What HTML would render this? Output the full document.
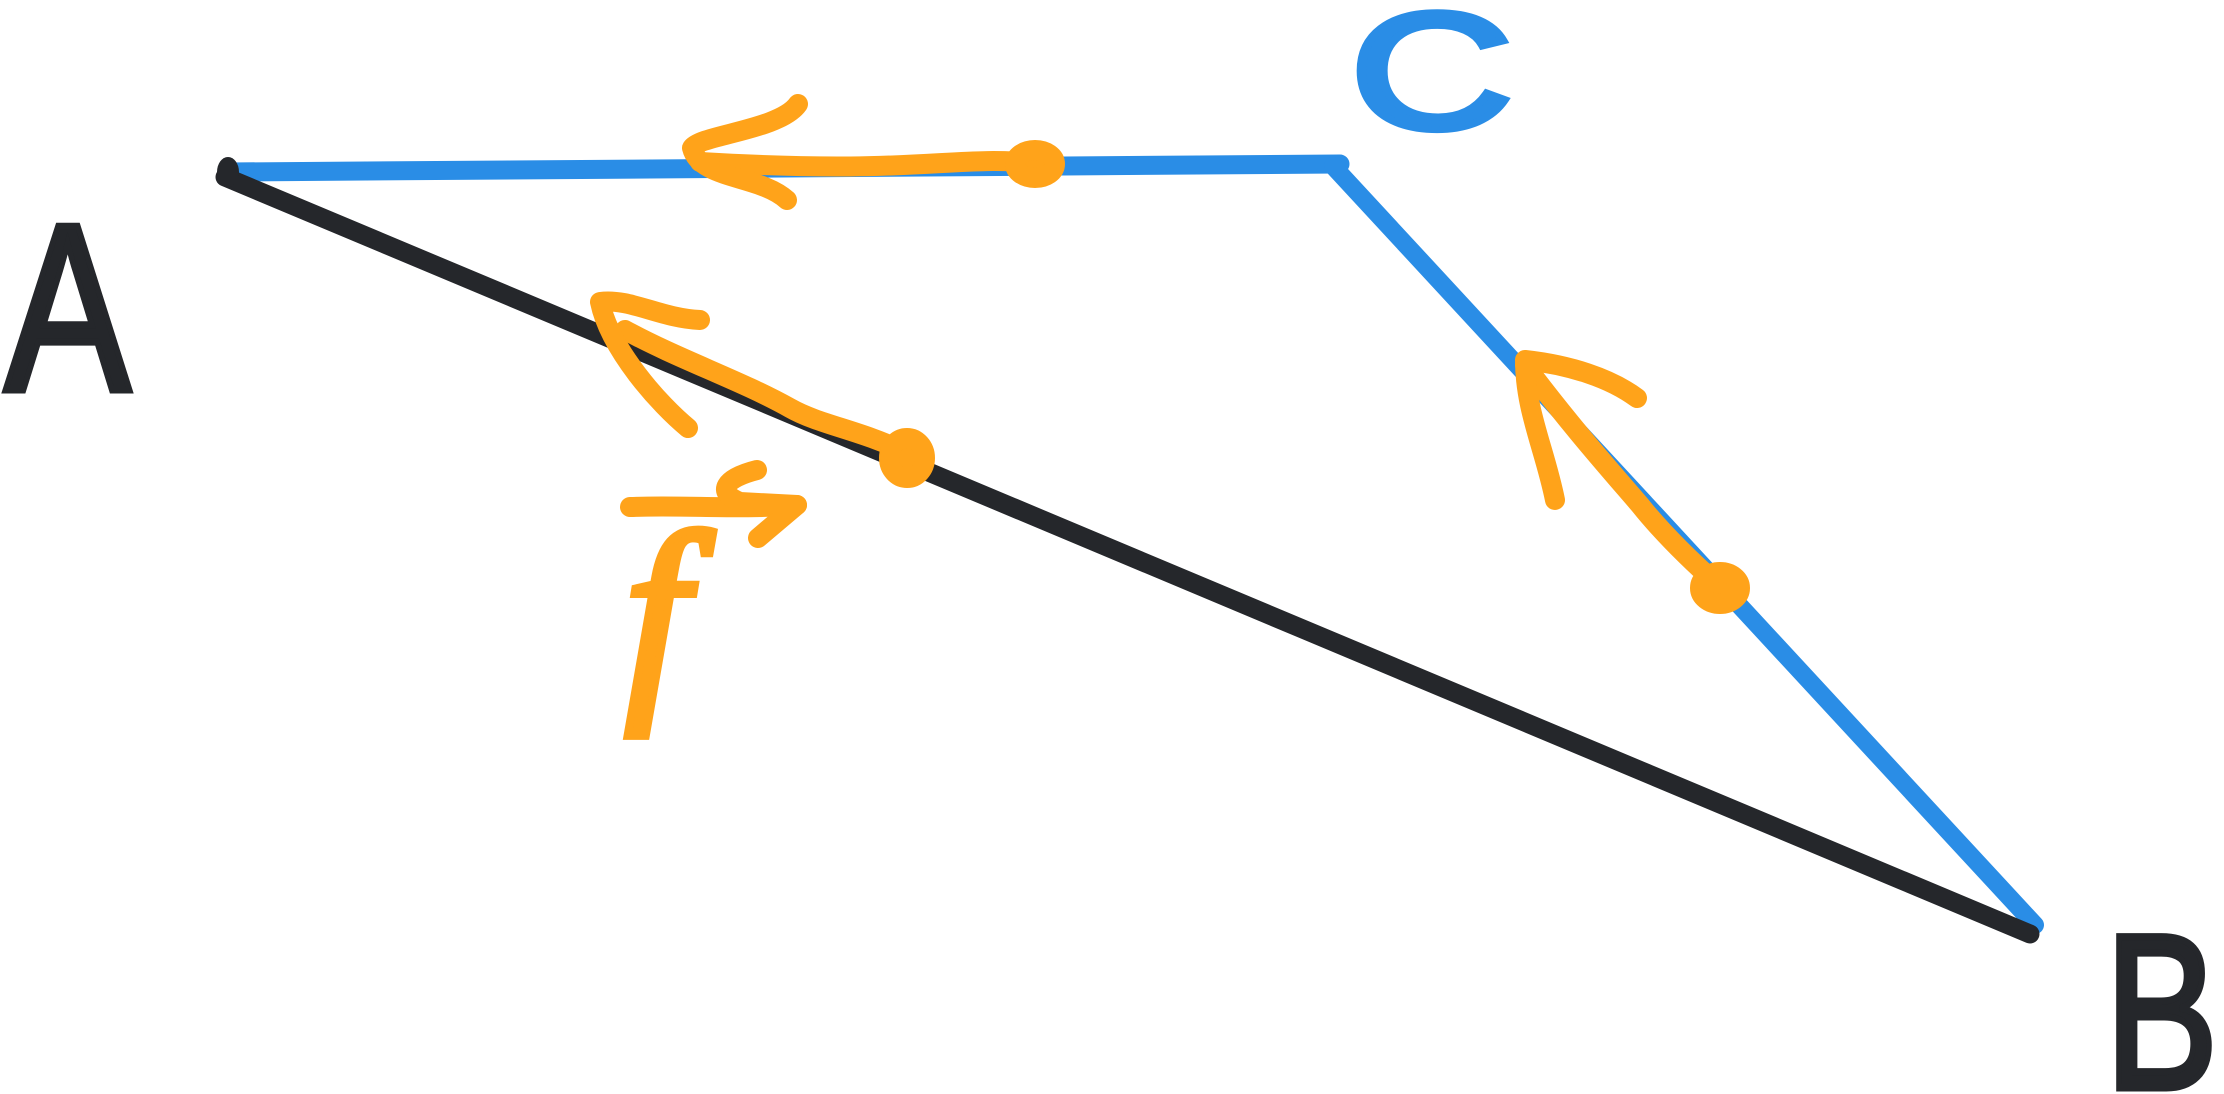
<!DOCTYPE html>
<html><head><style>
html,body{margin:0;padding:0;background:#fff;}
svg{display:block;}
</style></head><body>
<svg width="2224" height="1094" viewBox="0 0 2224 1094" xmlns="http://www.w3.org/2000/svg">
<g fill="none" stroke-linecap="round" stroke-linejoin="round">
<line x1="228" y1="172" x2="1340" y2="164" stroke="#2a8de6" stroke-width="19"/>
<line x1="1333" y1="166" x2="2035" y2="925" stroke="#2a8de6" stroke-width="18"/>
<line x1="225" y1="177" x2="2030" y2="934" stroke="#25272b" stroke-width="19"/>
<ellipse cx="228" cy="172" rx="11" ry="15" fill="#25272b" stroke="none"/>
<g stroke="#ffa31a" stroke-width="20">
<path d="M1035 163 C950 155 920 175 700 162"/>
<path d="M798 104 C780 130 700 135 692 148 C700 180 760 175 787 200"/>
<ellipse cx="1035" cy="164" rx="20" ry="14" fill="#ffa31a"/>
<path d="M905 452 C860 430 820 425 790 408 C740 380 680 360 625 330"/>
<path d="M700 320 C660 318 630 298 600 302 C610 350 660 405 688 428"/>
<ellipse cx="907" cy="458" rx="18" ry="20" fill="#ffa31a"/>
<path d="M1718 585 C1690 560 1660 530 1640 505 C1610 470 1570 425 1525 365"/>
<path d="M1637 398 C1610 378 1570 365 1525 360 C1525 410 1545 450 1555 500"/>
<ellipse cx="1720" cy="588" rx="20" ry="16" fill="#ffa31a"/>
<path d="M630 507 C690 505 740 510 797 505"/>
<path d="M757 470 C725 478 715 492 740 502 L797 505 L758 538"/>
</g>
</g>
<text x="625" y="688" font-family="Liberation Serif, serif" font-style="italic" font-size="225" fill="#ffa31a" stroke="#ffa31a" stroke-width="8">f</text>
<text x="5" y="390" textLength="125" lengthAdjust="spacingAndGlyphs" font-family="Liberation Sans, sans-serif" font-size="238" fill="#25272b" stroke="#25272b" stroke-width="7">A</text>
<text x="2105" y="1088" textLength="113" lengthAdjust="spacingAndGlyphs" font-family="Liberation Sans, sans-serif" font-size="220" fill="#25272b" stroke="#25272b" stroke-width="7">B</text>
<text x="1350" y="128" textLength="163" lengthAdjust="spacingAndGlyphs" font-family="Liberation Sans, sans-serif" font-size="165" fill="#2a8de6" stroke="#2a8de6" stroke-width="7">C</text>
</svg>
</body></html>
